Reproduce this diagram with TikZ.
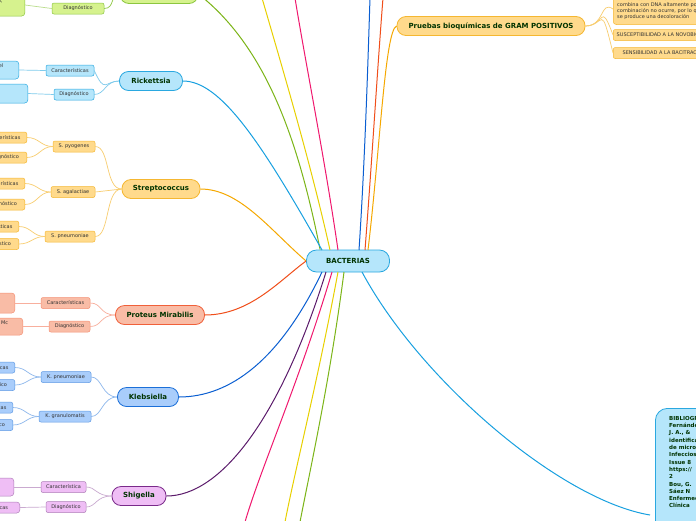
\documentclass[tikz,border=0pt]{standalone}
\usepackage{fontspec}
\setmainfont{DejaVu Sans}
\begin{document}
\begin{tikzpicture}[x=1pt,y=-1pt,
 main/.style={rounded corners=9pt,draw,line width=0.8pt,font=\fontsize{7}{8}\selectfont\bfseries,text=black!80!green,inner sep=0pt,minimum height=19pt},
 sub/.style={rounded corners=2pt,draw,line width=0.5pt,font=\fontsize{5}{6}\selectfont,text=black!80,inner sep=0pt,minimum height=11pt},
 leaf/.style={rounded corners=3pt,draw,line width=0.5pt,font=\fontsize{5}{6}\selectfont,text=black!80,inner sep=2pt,anchor=east,align=right},
 br/.style={line width=1pt},
 tw/.style={line width=0.7pt}]
\definecolor{gF}{HTML}{D6F28E}\definecolor{gD}{HTML}{8CC63F}\definecolor{gL}{HTML}{7CB518}
\definecolor{bF}{HTML}{B5E6FB}\definecolor{bD}{HTML}{2AA8E0}\definecolor{bL}{HTML}{18A0E0}
\definecolor{oF}{HTML}{FFDA8C}\definecolor{oD}{HTML}{F5B731}\definecolor{oL}{HTML}{F5A800}
\definecolor{rF}{HTML}{F9BCA6}\definecolor{rD}{HTML}{F0603A}\definecolor{rL}{HTML}{F04E1A}
\definecolor{kF}{HTML}{A9CDFB}\definecolor{kD}{HTML}{1B6FD8}\definecolor{kL}{HTML}{0A5ED1}
\definecolor{sF}{HTML}{EFBEF5}\definecolor{sD}{HTML}{7A2A8A}\definecolor{sL}{HTML}{5B1A6B}
\definecolor{pL}{HTML}{F0186E}\definecolor{yL}{HTML}{E8D000}
\useasboundingbox (0,0) rectangle (696,520);
\clip (0,0) rectangle (696,520);
\fill[white] (0,0) rectangle (696,520);
% center
\node[main,fill=bF,draw=bD,minimum width=83pt,minimum height=22pt,rounded corners=10pt] (c) at (348,261) {BACTERIAS};
% main nodes
\node[main,fill=gF,draw=gD,minimum width=78pt] (st) at (159,-6) {Staphylococcus};
\node[main,fill=bF,draw=bD,minimum width=63pt] (ri) at (151,81) {Rickettsia};
\node[main,fill=oF,draw=oD,minimum width=78pt] (sp) at (161,189) {Streptococcus};
\node[main,fill=rF,draw=rD,minimum width=89pt] (pr) at (160,315) {Proteus Mirabilis};
\node[main,fill=kF,draw=kD,minimum width=61pt] (kl) at (148,397) {Klebsiella};
\node[main,fill=sF,draw=sD,minimum width=54pt] (sh) at (139,496) {Shigella};
\node[main,fill=oF,draw=oD,minimum width=188pt] (pb) at (491,26) {Pruebas bioquímicas de GRAM POSITIVOS};
\coordinate (tg) at (240,-2);\coordinate (ty) at (262,-2);\coordinate (tp) at (295,-2);
\coordinate (tb) at (370,-2);\coordinate (tr) at (383,-2);
\coordinate (dp) at (245,522);\coordinate (dy) at (285,522);\coordinate (dg) at (300,522);
% main branches
\draw[br,gL] (c.north west)++(14,0) coordinate (cg) .. controls (300,150) and (270,50) .. (st.east) ;
\draw[br,yL] (330,250) .. controls (310,160) and (280,60) .. (ty);
\draw[br,pL] (338,250) .. controls (325,160) and (305,60) .. (tp);
\draw[br,kL] (359,250) .. controls (365,160) and (368,60) .. (tb);
\draw[br,rL] (365,250) .. controls (372,160) and (378,60) .. (tr);
\draw[br,oL] (368,250) .. controls (380,150) and (385,30) .. (pb.west);
\draw[br,bL] (322,250) .. controls (260,140) and (220,81) .. (ri.east);
\draw[br,oL] (c.west) .. controls (270,230) and (240,189) .. (sp.east);
\draw[br,rL] (c.west) .. controls (280,280) and (250,315) .. (pr.east);
\draw[br,kL] (322,272) .. controls (280,360) and (230,397) .. (kl.east);
\draw[br,sL] (326,272) .. controls (280,420) and (220,496) .. (sh.east);
\draw[br,pL] (332,272) .. controls (300,380) and (260,470) .. (dp);
\draw[br,yL] (338,272) .. controls (318,380) and (295,470) .. (dy);
\draw[br,gL] (344,272) .. controls (330,380) and (310,470) .. (dg);
\draw[br,bL] (362,272) .. controls (420,380) and (560,500) .. (650,515);
% BIBLIO
\node[rounded corners=12pt,draw=bD,fill=bF,line width=0.8pt,anchor=north west,minimum width=80pt,minimum height=130pt,inner sep=0pt] (bib) at (655,408) {};
\node[anchor=north west,font=\fontsize{5.5}{7.3}\selectfont\bfseries,text=black!80!green,align=left,inner sep=0pt] at (669,415) {BIBLIOGRAFÍA\\Fernández\\J. A., \&\\identificación\\de microorganismos\\Infecciosas\\Issue 8\\https://\\2\\Bou, G.\\Sáez N\\Enfermedades\\Clínica};
% Staph children
\node[sub,fill=gF,draw=gD,minimum width=52pt] (sd) at (78,8.5) {Diagnóstico};
\node[leaf,fill=gF,draw=gD,minimum width=60pt,minimum height=22pt] (sdl) at (25,5) {anitol,\\[3pt]};
\draw[tw,gD] (st.west) .. controls (110,-6) and (115,8.5) .. (sd.east);
\draw[tw,gD!60] (sd.west) -- (sdl.east);
% Rickettsia
\node[sub,fill=bF,draw=bD,minimum width=48pt] (rc) at (70,70.5) {Características};
\node[sub,fill=bF,draw=bD,minimum width=40pt] (rd) at (74,94.5) {Diagnóstico};
\node[leaf,fill=bF,draw=bD,minimum width=40pt,minimum height=18pt] (rcl) at (19,70) {n el\\[2pt]};
\node[leaf,fill=bF,draw=bD,minimum width=40pt,minimum height=19pt] (rdl) at (28,93.5) {};
\foreach \a in {rc,rd}{\draw[tw,bD!60] (ri.west) .. controls (105,81) and (105,\ifx\a rc 70.5\else 94.5\fi) .. (\a.east);}
\draw[tw,bD!60] (rc.west) -- (rcl.east);\draw[tw,bD!60] (rd.west) -- (rdl.east);
% Strep
\node[sub,fill=oF,draw=oD,minimum width=42pt] (s1) at (74,146.5) {S. pyogenes};
\node[sub,fill=oF,draw=oD,minimum width=44pt] (s2) at (73,192) {S. agalactiae};
\node[sub,fill=oF,draw=oD,minimum width=50pt] (s3) at (70,236.5) {S. pneumoniae};
\draw[tw,oD!70] (sp.west) .. controls (105,189) and (110,146.5) .. (s1.east);
\draw[tw,oD!70] (sp.west) -- (s2.east);
\draw[tw,oD!70] (sp.west) .. controls (105,189) and (110,236.5) .. (s3.east);
\node[sub,fill=oF,draw=oD,anchor=east,minimum width=50pt] (s1a) at (27,137.5) {Características};
\node[sub,fill=oF,draw=oD,anchor=east,minimum width=45pt] (s1b) at (27,157.5) {Diagnóstico};
\node[sub,fill=oF,draw=oD,anchor=east,minimum width=50pt] (s2a) at (25,183.5) {Características};
\node[sub,fill=oF,draw=oD,anchor=east,minimum width=45pt] (s2b) at (25,204.5) {Diagnóstico};
\node[sub,fill=oF,draw=oD,anchor=east,minimum width=50pt] (s3a) at (19,226.5) {Características};
\node[sub,fill=oF,draw=oD,anchor=east,minimum width=45pt] (s3b) at (19,244) {Diagnóstico};
\foreach \p/\a/\b in {s1/s1a/s1b,s2/s2a/s2b,s3/s3a/s3b}{
 \draw[tw,oD!70] (\p.west) .. controls +(-12,0) and +(12,0) .. (\a.east);
 \draw[tw,oD!70] (\p.west) .. controls +(-12,0) and +(12,0) .. (\b.east);}
% Proteus
\node[sub,fill=rF,draw=rD!70,minimum width=49pt] (pc) at (65.5,303) {Características};
\node[sub,fill=rF,draw=rD!70,minimum width=41pt] (pd) at (69.5,326.5) {Diagnóstico};
\node[leaf,fill=rF,draw=rD!70,minimum width=40pt,minimum height=20pt] (pcl) at (15,303) {ios\\[2pt]};
\node[leaf,fill=rF,draw=rD!70,minimum width=40pt,minimum height=17pt] (pdl) at (23,326.5) {r Mc\\[2pt]};
\draw[tw,rD!50] (pr.west) .. controls (100,315) and (102,303) .. (pc.east);
\draw[tw,rD!50] (pr.west) .. controls (100,315) and (102,326.5) .. (pd.east);
\draw[tw,rD!50] (pc.west) -- (pcl.east);\draw[tw,rD!50] (pd.west) -- (pdl.east);
% Klebsiella
\node[sub,fill=kF,draw=kD!70,minimum width=50pt] (k1) at (66,377) {K. pneumoniae};
\node[sub,fill=kF,draw=kD!70,minimum width=52pt] (k2) at (65,416.5) {K. granulomatis};
\draw[tw,kD!50] (kl.west) .. controls (102,397) and (102,377) .. (k1.east);
\draw[tw,kD!50] (kl.west) .. controls (102,397) and (102,416.5) .. (k2.east);
\node[sub,fill=kF,draw=kD!70,anchor=east,minimum width=50pt] (k1a) at (15,367.5) {Características};
\node[sub,fill=kF,draw=kD!70,anchor=east,minimum width=45pt] (k1b) at (15,385) {Diagnóstico};
\node[sub,fill=kF,draw=kD!70,anchor=east,minimum width=50pt] (k2a) at (13,407.5) {Características};
\node[sub,fill=kF,draw=kD!70,anchor=east,minimum width=45pt] (k2b) at (13,425) {Diagnóstico};
\foreach \p/\a/\b in {k1/k1a/k1b,k2/k2a/k2b}{
 \draw[tw,kD!50] (\p.west) .. controls +(-12,0) and +(12,0) .. (\a.east);
 \draw[tw,kD!50] (\p.west) .. controls +(-12,0) and +(12,0) .. (\b.east);}
% Shigella
\node[sub,fill=sF,draw=sD!60,minimum width=45pt] (hc) at (63.5,487) {Característica};
\node[sub,fill=sF,draw=sD!60,minimum width=40pt] (hd) at (66,507) {Diagnóstico};
\node[leaf,fill=sF,draw=sD!60,minimum width=40pt,minimum height=18pt] (hcl) at (14,487) {};
\node[leaf,fill=sF,draw=sD!60,minimum width=40pt,minimum height=11pt] (hdl) at (20,507.5) {rmicas};
\draw[tw,sD!40] (sh.west) .. controls (96,496) and (96,487) .. (hc.east);
\draw[tw,sD!40] (sh.west) .. controls (96,496) and (96,507) .. (hd.east);
\draw[tw,sD!40] (hc.west) -- (hcl.east);\draw[tw,sD!40] (hd.west) -- (hdl.east);
% Pruebas children
\node[rounded corners=3pt,draw=oD,fill=oF,line width=0.5pt,anchor=west,minimum width=100pt,minimum height=31pt,inner sep=0pt] (p1) at (613,9) {};
\node[anchor=north west,font=\fontsize{5}{6.2}\selectfont,text=black!80,align=left,inner sep=0pt] at (617,-4) {DNAsa: contiene verde de metilo que se\\combina con DNA altamente polimerizado\\combinación no ocurre, por lo que\\se produce una decoloración};
\node[sub,fill=oF,draw=oD,anchor=west,minimum width=100pt,align=left] (p2) at (613,35) {\ SUSCEPTIBILIDAD A LA NOVOBIOCINA};
\node[sub,fill=oF,draw=oD,anchor=west,minimum width=100pt,align=left] (p3) at (613,53) {\ SENSIBILIDAD A LA BACITRACINA};
\foreach \n in {p1,p2,p3}{\draw[tw,oD!70] (pb.east) .. controls (605,26) and (600,0) .. (\n.west);}
\end{tikzpicture}
\end{document}
